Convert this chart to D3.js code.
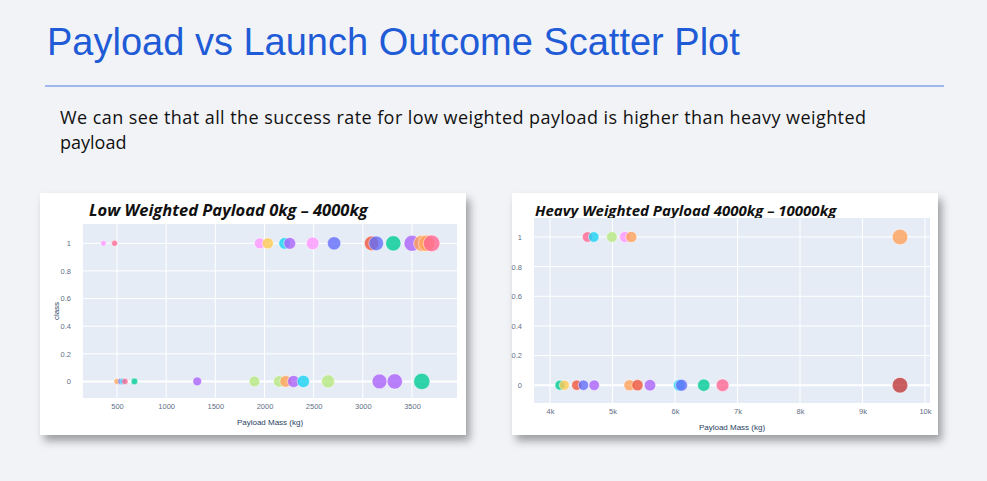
<!DOCTYPE html>
<html><head><meta charset="utf-8">
<script src="https://cdn.jsdelivr.net/npm/d3@7"></script>
<style>
body{margin:0;background:#f2f3f7;font-family:"Liberation Sans",Arial,sans-serif}
</style></head>
<body><svg width="987" height="481"></svg>
<script>
// Low weighted payload (kg), outcome class and marker colour
const lowMass  = [362, 475, 1952, 2034, 2205, 2257, 2490, 2708, 3090, 3136, 3310, 3500, 3600, 3650, 3700,
                  500, 540, 560, 580, 677, 1316, 1898, 2150, 2216, 2296, 2395, 2647, 3170, 3325, 3600]
const lowClass = [1,1,1,1,1,1,1,1,1,1,1,1,1,1,1, 0,0,0,0,0,0,0,0,0,0,0,0,0,0,0]
const lowColor = ['#FF97FF','#FF6692','#FF97FF','#FECB52','#19D3F3','#AB63FA','#FF97FF','#636EFA','#EF553B','#636EFA','#00CC96','#AB63FA','#FFA15A','#FFA15A','#FF6692',
                  '#FFA15A','#636EFA','#19D3F3','#FF6692','#00CC96','#AB63FA','#B6E880','#B6E880','#FFA15A','#AB63FA','#19D3F3','#B6E880','#AB63FA','#AB63FA','#00CC96']
const lowTicksX = [500, 1000, 1500, 2000, 2500, 3000, 3500]

// Heavy weighted payload
const heavyMass  = [4600, 4700, 4990, 5200, 5300, 9600,
                    4159, 4230, 4428, 4535, 4707, 5271, 5400, 5600, 6070, 6104, 6460, 6761, 9600]
const heavyClass = [1,1,1,1,1,1, 0,0,0,0,0,0,0,0,0,0,0,0,0]
const heavyColor = ['#FF6692','#19D3F3','#B6E880','#FF97FF','#FFA15A','#FFA15A',
                    '#00CC96','#FECB52','#EF553B','#636EFA','#AB63FA','#FFA15A','#EF553B','#AB63FA','#19D3F3','#636EFA','#00CC96','#FF6692','#C0393B']
const heavyTicksX = [4000, 5000, 6000, 7000, 8000, 9000, 10000]
const ticksY = [0, 0.2, 0.4, 0.6, 0.8, 1]

const svg = d3.select('svg')

// Slide header
svg.append('text').attr('x', 47).attr('y', 55).attr('fill', '#1f5bd6')
  .attr('font-size', 38).text('Payload vs Launch Outcome Scatter Plot')
svg.append('line').attr('x1', 45).attr('x2', 944).attr('y1', 86).attr('y2', 86)
  .attr('stroke', '#4a7be0').attr('stroke-width', 1)
const body = svg.append('text').attr('fill', '#111').attr('font-size', 18)
  .attr('font-family', '"Open Sans",sans-serif')
body.append('tspan').attr('x', 60).attr('y', 124).attr('textLength', 806)
  .text('We can see that all the success rate for low weighted payload is higher than heavy weighted')
body.append('tspan').attr('x', 60).attr('y', 149).text('payload')

const shadow = svg.append('defs').append('filter').attr('id', 'sh')
  .attr('x', '-10%').attr('y', '-10%').attr('width', '125%').attr('height', '130%')
shadow.append('feDropShadow').attr('dx', 4).attr('dy', 6).attr('stdDeviation', 4)
  .attr('flood-color', '#000').attr('flood-opacity', 0.35)

function panel(o) {
  const g = svg.append('g')
  g.append('rect').attr('x', o.cx).attr('y', 193).attr('width', 426).attr('height', 242)
    .attr('fill', '#fff').attr('filter', 'url(#sh)')
  g.append('text').attr('x', o.tx).attr('y', 216).attr('font-size', o.tsize).attr('font-weight', 'bold')
    .attr('font-style', 'italic').attr('fill', '#111').attr('font-family', '"Open Sans",sans-serif')
    .text(o.title)

  const x = d3.scaleLinear().domain(o.xd).range([o.x0, o.x1])
  const y = d3.scaleLinear().domain([-0.12, o.ytop]).range([o.y1, o.y0])
  const r = d3.scaleLinear().domain(o.md).range(o.rr)

  g.append('rect').attr('x', o.x0).attr('y', o.y0).attr('width', o.x1 - o.x0)
    .attr('height', o.y1 - o.y0).attr('fill', '#e5ecf6')

  const grid = g.append('g').attr('stroke', '#fff').attr('stroke-width', 1)
  grid.selectAll('.gx').data(o.ticksX).enter().append('line')
    .attr('x1', d => x(d)).attr('x2', d => x(d)).attr('y1', o.y0).attr('y2', o.y1)
  grid.selectAll('.gy').data(ticksY).enter().append('line')
    .attr('x1', o.x0).attr('x2', o.x1).attr('y1', d => y(d)).attr('y2', d => y(d))
    .attr('stroke-width', d => d === 0 ? 2 : 1)

  const ax = g.append('g').attr('transform', `translate(0,${o.y1})`)
    .call(d3.axisBottom(x).tickValues(o.ticksX).tickSize(0).tickPadding(6).tickFormat(o.fmt))
  const ay = g.append('g').attr('transform', `translate(${o.x0},0)`)
    .call(d3.axisLeft(y).tickValues(ticksY).tickSize(0).tickPadding(12).tickFormat(d3.format('')))
  for (const a of [ax, ay]) {
    a.select('.domain').remove()
    a.selectAll('text').attr('fill', '#5f6f86').attr('font-size', 7.5)
  }

  g.append('text').attr('x', (o.x0 + o.x1) / 2).attr('y', o.y1 + 27).attr('text-anchor', 'middle')
    .attr('font-size', 8).attr('fill', '#2a3f5f').text('Payload Mass (kg)')
  if (o.ylabel) {
    g.append('text').attr('transform', `translate(${o.x0 - 24},${(o.y0 + o.y1) / 2}) rotate(-90)`)
      .attr('text-anchor', 'middle').attr('font-size', 8).attr('fill', '#2a3f5f').text('class')
  }

  g.append('g').selectAll('circle').data(o.mass).enter().append('circle')
    .attr('cx', d => x(d)).attr('cy', (d, i) => y(o.cls[i])).attr('r', d => r(d))
    .attr('fill', (d, i) => o.col[i]).attr('fill-opacity', 0.8)
    .attr('stroke', '#fff').attr('stroke-width', 0.5)
}

panel({ cx: 40, tx: 89, tsize: 16.5, title: 'Low Weighted Payload 0kg \u2013 4000kg',
  x0: 83, x1: 457, y0: 224, y1: 398, xd: [154, 3958], ytop: 1.14,
  md: [300, 3700], rr: [2.7, 8.3], mass: lowMass, cls: lowClass, col: lowColor,
  ticksX: lowTicksX, fmt: d3.format(''), ylabel: true })

panel({ cx: 512, tx: 535, tsize: 15, title: 'Heavy Weighted Payload 4000kg \u2013 10000kg',
  x0: 534, x1: 930, y0: 218, y1: 403, xd: [3744, 10080], ytop: 1.128,
  md: [4000, 9600], rr: [4.9, 7.8], mass: heavyMass, cls: heavyClass, col: heavyColor,
  ticksX: heavyTicksX, fmt: d => d / 1000 + 'k', ylabel: false })
</script></body></html>
